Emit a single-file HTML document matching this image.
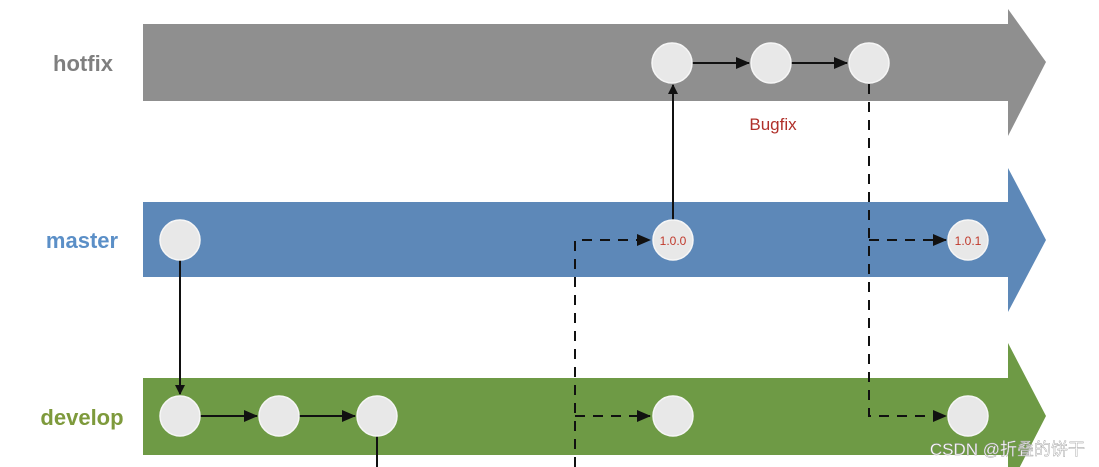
<!DOCTYPE html>
<html><head><meta charset="utf-8"><style>
html,body{margin:0;padding:0;background:#fff;}
svg{display:block;}
text{font-family:"Liberation Sans","Noto Sans CJK SC",sans-serif;}
</style></head><body>
<svg width="1099" height="467" viewBox="0 0 1099 467" xmlns="http://www.w3.org/2000/svg">
<defs>
<marker id="a" markerWidth="10" markerHeight="10" refX="9" refY="5" orient="auto" markerUnits="userSpaceOnUse"><path d="M0,0 L10,5 L0,10 z" fill="#111"/></marker>
<marker id="b" markerWidth="14" markerHeight="14" refX="13" refY="7" orient="auto" markerUnits="userSpaceOnUse"><path d="M0,1 L14,7 L0,13 z" fill="#111"/></marker>
</defs>
<polygon points="143,24 1008,24 1008,9 1046,62 1008,136 1008,101 143,101" fill="#8f8f8f"/>
<polygon points="143,202 1008,202 1008,168 1046,240 1008,312 1008,277 143,277" fill="#5d88b8"/>
<polygon points="143,378 1008,378 1008,343 1046,416 1008,490 1008,455 143,455" fill="#6e9a45"/>
<text x="83" y="71" text-anchor="middle" font-size="22" font-weight="bold" fill="#7f7f7f">hotfix</text>
<text x="82" y="248" text-anchor="middle" font-size="22" font-weight="bold" fill="#5b8fc7">master</text>
<text x="82" y="425" text-anchor="middle" font-size="22" font-weight="bold" fill="#7e9a3c">develop</text>
<text x="773" y="130" text-anchor="middle" font-size="17" fill="#b0302a">Bugfix</text>
<g stroke="#111" stroke-width="2" fill="none">
<line x1="180" y1="260" x2="180" y2="394" marker-end="url(#a)"/>
<line x1="200" y1="416" x2="257" y2="416" marker-end="url(#b)"/>
<line x1="299" y1="416" x2="355" y2="416" marker-end="url(#b)"/>
<line x1="377" y1="436" x2="377" y2="467"/>
<line x1="673" y1="220" x2="673" y2="85" marker-end="url(#a)"/>
<line x1="692" y1="63" x2="749" y2="63" marker-end="url(#b)"/>
<line x1="791" y1="63" x2="847" y2="63" marker-end="url(#b)"/>
</g>
<g stroke="#111" stroke-width="2" fill="none" stroke-dasharray="10,8">
<polyline points="575,467 575,240 650,240" marker-end="url(#b)"/>
<line x1="575" y1="416" x2="650" y2="416" marker-end="url(#b)"/>
<polyline points="869,84 869,416 946,416" marker-end="url(#b)"/>
<line x1="869" y1="240" x2="946" y2="240" marker-end="url(#b)"/>
</g>
<g fill="#e8e8e8" stroke="#f6f6f6" stroke-width="1.5">
<circle cx="672" cy="63" r="20"/><circle cx="771" cy="63" r="20"/><circle cx="869" cy="63" r="20"/>
<circle cx="180" cy="240" r="20"/><circle cx="673" cy="240" r="20"/><circle cx="968" cy="240" r="20"/>
<circle cx="180" cy="416" r="20"/><circle cx="279" cy="416" r="20"/><circle cx="377" cy="416" r="20"/>
<circle cx="673" cy="416" r="20"/><circle cx="968" cy="416" r="20"/>
</g>
<text x="673" y="245" text-anchor="middle" font-size="12" fill="#c0392b">1.0.0</text>
<text x="968" y="245" text-anchor="middle" font-size="12" fill="#c0392b">1.0.1</text>
<text x="1085" y="455" text-anchor="end" font-size="17" fill="#ffffff" stroke="#9a9a9a" stroke-width="0.4">CSDN @折叠的饼干</text>
</svg>
</body></html>
